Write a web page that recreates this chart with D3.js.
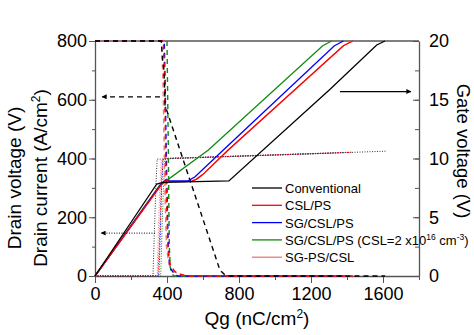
<html>
<head>
  <title>Qg chart</title>
  <style>
    body { margin: 0; background: #fff; }
    text { font-family: "Liberation Sans", Arial, sans-serif; fill: #000; }
  </style>
</head>
<body>
  <script src="https://d3js.org/d3.v7.min.js"></script>
  <script>
    // series order: Conventional, CSL/PS, SG/CSL/PS, SG/CSL/PS (CSL=2e16), SG-PS/CSL
    var names = ["Conventional", "CSL/PS", "SG/CSL/PS", "SG/CSL/PS (CSL=2 x", "SG-PS/CSL"];
    var colors = ["#000000", "#ff0000", "#0000ff", "#108a10", "#f07878"];

    // gate voltage (V, right axis) vs Qg (nC/cm2)
    var gateConv = [[0, 0], [343, 7.83], [378, 7.97], [744, 8.09], [1306, 15.9], [1565, 19.66], [1611, 20]];
    var gateCsl = [[0, 0], [365, 7.7], [395, 8.2], [412, 8.03], [535, 8.05], [565, 8.25], [600, 8.65], [740, 10.72], [1380, 19.6], [1432, 20]];
    var gateSg = [[0, 0], [362, 7.7], [393, 8.2], [410, 8.1], [517, 8.1], [556, 8.45], [713, 10.72], [1330, 19.6], [1380, 20]];
    var gateSg2 = [[0, 0], [360, 7.7], [398, 8.2], [407, 8.23], [630, 10.72], [1265, 19.6], [1315, 20]];
    var gateSgps = [[0, 0], [358, 7.7], [392, 8.18], [412, 8.03], [535, 8.05], [565, 8.25], [600, 8.65], [740, 10.72], [1380, 19.6], [1430, 20]];

    // drain voltage (V, left axis)
    var vdConv = [[0, 800], [368, 800], [375, 740], [383, 700], [389, 600], [389, 582], [500, 377], [600, 193], [694, 20], [720, 5], [739, 0], [1611, 0]];
    var vdCsl = [[0, 800], [380, 800], [385, 700], [388, 600], [392, 450], [395, 300], [400, 200], [405, 100], [410, 60], [420, 35], [445, 15], [480, 5], [510, 0], [1432, 0]];
    var vdSg = [[0, 800], [385, 800], [390, 650], [395, 450], [400, 300], [405, 150], [410, 60], [420, 25], [440, 8], [460, 0], [1380, 0]];
    var vdSg2 = [[0, 800], [400, 800], [403, 650], [407, 450], [410, 250], [413, 100], [418, 30], [430, 5], [440, 0], [1315, 0]];
    var vdSgps = [[0, 800], [370, 800], [378, 650], [384, 450], [390, 250], [397, 100], [410, 40], [440, 15], [480, 3], [510, 0], [1430, 0]];

    // drain current (A/cm2, left axis)
    var idConv = [[0, 0], [322, 0], [330, 150], [338, 300], [345, 398], [360, 398], [1620, 425]];
    var idCsl = [[0, 0], [350, 0], [360, 150], [368, 300], [375, 395], [390, 400], [1432, 421]];
    var idSg = [[0, 0], [355, 0], [363, 150], [370, 300], [378, 395], [395, 400], [1380, 420]];
    var idSg2 = [[0, 0], [365, 0], [372, 150], [380, 300], [387, 395], [400, 400], [1315, 418]];
    var idSgps = [[0, 0], [345, 0], [352, 150], [360, 300], [368, 395], [385, 400], [1430, 422]];

    var xTicks = [0, 400, 800, 1200, 1600];
    var yLTicks = [0, 200, 400, 600, 800];
    var yRTicks = [0, 5, 10, 15, 20];

    // arrows: [q from, q to, value]
    var arrowVd = [361, 40, 610];    // left axis
    var arrowId = [333, 34, 146];    // left axis
    var arrowGate = [1361, 1755, 15.7]; // right axis

    var margin = { top: 41, right: 55, bottom: 59, left: 95 };
    var width = 474 - margin.left - margin.right;
    var height = 335 - margin.top - margin.bottom;

    var svg = d3.select("body").append("svg")
      .attr("width", 474).attr("height", 335)
      .append("g")
      .attr("transform", "translate(" + margin.left + "," + margin.top + ")");

    var x = d3.scaleLinear().domain([0, 1800]).range([0, width]);
    var yL = d3.scaleLinear().domain([0, 800]).range([height, 0]);
    var yR = d3.scaleLinear().domain([0, 20]).range([height, 0]);

    var axisColor = "#555";

    // minor ticks
    svg.append("g").attr("transform", "translate(0," + height + ")")
      .call(d3.axisBottom(x).tickValues(d3.range(0, 1801, 200)).tickSize(4).tickFormat(""))
      .call(function (g) { g.select(".domain").remove(); g.selectAll("line").attr("stroke", axisColor); });
    svg.append("g")
      .call(d3.axisLeft(yL).tickValues(d3.range(0, 801, 100)).tickSize(3).tickFormat(""))
      .call(function (g) { g.select(".domain").remove(); g.selectAll("line").attr("stroke", axisColor); });
    svg.append("g").attr("transform", "translate(" + width + ",0)")
      .call(d3.axisLeft(yR).tickValues(d3.range(0, 20.1, 2.5)).tickSize(4).tickFormat(""))
      .call(function (g) { g.select(".domain").remove(); g.selectAll("line").attr("stroke", axisColor); });

    // major axes
    var xAxis = svg.append("g").attr("transform", "translate(0," + height + ")")
      .call(d3.axisBottom(x).tickValues(xTicks).tickFormat(d3.format("d")).tickSize(7).tickPadding(4).tickSizeOuter(0));
    var yAxisL = svg.append("g")
      .call(d3.axisLeft(yL).tickValues(yLTicks).tickSize(6).tickPadding(2).tickSizeOuter(0));
    var yAxisR = svg.append("g").attr("transform", "translate(" + width + ",0)")
      .call(d3.axisRight(yR).tickValues(yRTicks).tickSize(-6).tickPadding(10).tickSizeOuter(0));
    [xAxis, yAxisL, yAxisR].forEach(function (g) {
      g.select(".domain").attr("stroke", axisColor).attr("stroke-width", 1.3);
      g.selectAll("line").attr("stroke", axisColor);
      g.selectAll("text").style("font-size", "18px").attr("font-family", "Liberation Sans, Arial, sans-serif");
    });
    svg.append("line").attr("x1", 0).attr("x2", width).attr("y1", 0).attr("y2", 0)
      .attr("stroke", axisColor).attr("stroke-width", 1.3);

    var lineL = d3.line().x(function (d) { return x(d[0]); }).y(function (d) { return yL(d[1]); });
    var lineR = d3.line().x(function (d) { return x(d[0]); }).y(function (d) { return yR(d[1]); });

    var gate = [gateConv, gateCsl, gateSg, gateSg2, gateSgps];
    var vd = [vdConv, vdCsl, vdSg, vdSg2, vdSgps];
    var id = [idConv, idCsl, idSg, idSg2, idSgps];
    var order = [4, 3, 2, 1, 0];

    order.forEach(function (i) {
      svg.append("path").datum(id[i]).attr("d", lineL)
        .attr("fill", "none").attr("stroke", i == 0 ? "#333" : colors[i])
        .attr("stroke-width", 1).attr("stroke-dasharray", "1,1.5");
    });
    order.forEach(function (i) {
      svg.append("path").datum(vd[i]).attr("d", lineL)
        .attr("fill", "none").attr("stroke", colors[i])
        .attr("stroke-width", 1.4).attr("stroke-dasharray", "5,4");
    });
    order.forEach(function (i) {
      svg.append("path").datum(gate[i]).attr("d", lineR)
        .attr("fill", "none").attr("stroke", colors[i])
        .attr("stroke-width", 1.3);
    });

    // arrows
    var defs = svg.append("defs");
    defs.append("marker").attr("id", "arr").attr("viewBox", "0 0 10 10")
      .attr("refX", 9).attr("refY", 5).attr("markerWidth", 7).attr("markerHeight", 5)
      .attr("markerUnits", "userSpaceOnUse").attr("orient", "auto")
      .append("path").attr("d", "M0,0L10,5L0,10Z").attr("fill", "#000");

    svg.append("line").attr("x1", x(arrowVd[0])).attr("x2", x(arrowVd[1]))
      .attr("y1", yL(arrowVd[2])).attr("y2", yL(arrowVd[2]))
      .attr("stroke", "#000").attr("stroke-width", 1.3).attr("stroke-dasharray", "5,4")
      .attr("marker-end", "url(#arr)");
    svg.append("line").attr("x1", x(arrowId[0])).attr("x2", x(arrowId[1]))
      .attr("y1", yL(arrowId[2])).attr("y2", yL(arrowId[2]))
      .attr("stroke", "#000").attr("stroke-width", 1).attr("stroke-dasharray", "1,1.5")
      .attr("marker-end", "url(#arr)");
    svg.append("line").attr("x1", x(arrowGate[0])).attr("x2", x(arrowGate[1]))
      .attr("y1", yR(arrowGate[2])).attr("y2", yR(arrowGate[2]))
      .attr("stroke", "#000").attr("stroke-width", 1.3)
      .attr("marker-end", "url(#arr)");

    // legend
    var leg = svg.append("g").attr("transform", "translate(157,147)");
    names.forEach(function (n, i) {
      var g = leg.append("g").attr("transform", "translate(0," + (i * 17.3) + ")");
      g.append("line").attr("x1", 0).attr("x2", 30).attr("stroke", colors[i]).attr("stroke-width", 1.3);
      var t = g.append("text").attr("x", 33).attr("y", 5).style("font-size", "13px").text(n);
      if (i == 3) {
        t.append("tspan").text("10");
        t.append("tspan").attr("dy", -5).style("font-size", "8.5px").text("16");
        t.append("tspan").attr("dy", 5).text(" cm");
        t.append("tspan").attr("dy", -5).style("font-size", "8.5px").text("-3");
        t.append("tspan").attr("dy", 5).text(")");
      }
    });

    // axis titles
    var xt = svg.append("text").attr("x", 162).attr("y", height + 49)
      .attr("text-anchor", "middle").style("font-size", "19px").text("Qg (nC/cm");
    xt.append("tspan").attr("dy", -7).style("font-size", "12px").text("2");
    xt.append("tspan").attr("dy", 7).text(")");

    svg.append("text").attr("transform", "translate(-74,137) rotate(-90)")
      .attr("text-anchor", "middle").style("font-size", "19px").text("Drain voltage (V)");
    var yt = svg.append("text").attr("transform", "translate(-48,137) rotate(-90)")
      .attr("text-anchor", "middle").style("font-size", "19px").text("Drain current (A/cm");
    yt.append("tspan").attr("dy", -7).style("font-size", "12px").text("2");
    yt.append("tspan").attr("dy", 7).text(")");

    svg.append("text").attr("transform", "translate(" + (width + 38) + ",110) rotate(90)")
      .attr("text-anchor", "middle").style("font-size", "18.5px").text("Gate voltage (V)");
  </script>
</body>
</html>
